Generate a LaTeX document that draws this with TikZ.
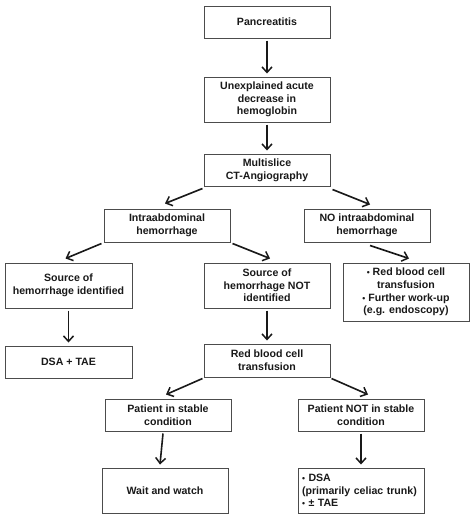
\documentclass[tikz,border=0pt]{standalone}
\usepackage{fontspec}
\setmainfont{Liberation Sans}
\usetikzlibrary{arrows.meta,calc}
\newcommand\bulletdot{{\fontsize{8.5}{8.5}\selectfont •}}
\begin{document}
\begin{tikzpicture}[x=1pt,y=-1pt,
  box/.style={draw=black!70,line width=1pt,rectangle,inner sep=0pt,align=center,
    font=\bfseries\fontsize{10.6}{12.6}\selectfont,text=black!90},
  arr/.style={draw=black!90,line width=1.6pt,-{Straight Barb[length=5.5pt,width=10pt,line width=1.5pt]}}]
\useasboundingbox (0,0) rectangle (474,520);
\node[box,minimum width=126pt,minimum height=32pt] (pan) at (267,22) {Pancreatitis};
\node[box,minimum width=126pt,minimum height=45pt] (une) at (267,99.5) {Unexplained acute\\decrease in\\hemoglobin};
\node[box,minimum width=126pt,minimum height=32pt] (mul) at (267,170) {Multislice\\CT-Angiography};
\node[box,minimum width=126pt,minimum height=33pt] (intra) at (167,225.5) {Intraabdominal\\hemorrhage};
\node[box,minimum width=126pt,minimum height=33pt] (noi) at (367,225.5) {NO intraabdominal\\hemorrhage};
\node[box,minimum width=127pt,minimum height=45pt] (srcid) at (68.5,285.5) {Source of\\hemorrhage identified};
\node[box,minimum width=126pt,minimum height=45pt] (srcnot) at (267,285.5) {Source of\\hemorrhage NOT\\identified};
\node[box,minimum width=126pt,minimum height=58pt] (rbcbul) at (406,292) {\bulletdot{} Red blood cell\\transfusion\\\bulletdot{} Further work-up\\(e.g. endoscopy)};
\node[box,minimum width=127pt,minimum height=32pt] (dsatae) at (68.5,362) {DSA + TAE};
\node[box,minimum width=126pt,minimum height=33pt] (rbc) at (267,360.5) {Red blood cell\\transfusion};
\node[box,minimum width=126pt,minimum height=32pt] (stable) at (168,415) {Patient in stable\\condition};
\node[box,minimum width=126pt,minimum height=32pt] (notstable) at (361,415) {Patient NOT in stable\\condition};
\node[box,minimum width=126pt,minimum height=45pt] (wait) at (165,490.5) {Wait and watch};
\node[box,minimum width=126pt,minimum height=45pt,align=left,text width=118pt] (dsa) at (361,490.5) {\bulletdot{} DSA\\(primarily celiac trunk)\\\bulletdot{} ± TAE};
\draw[arr] ([yshift=-2pt]pan.south) -- ([yshift=3pt]une.north);
\draw[arr] ([yshift=-2pt]une.south) -- ([yshift=3pt]mul.north);
\draw[arr] ([xshift=-1pt,yshift=-2pt]mul.south west) -- ([xshift=-2pt,yshift=5pt]intra.north);
\draw[arr] ([xshift=2pt,yshift=-3pt]mul.south east) -- ([xshift=3pt,yshift=4pt]noi.north);
\draw[arr] ([xshift=-2pt,yshift=-1pt]intra.south west) -- ([xshift=-3pt,yshift=4pt]srcid.north);
\draw[arr] ([xshift=2pt,yshift=-1pt]intra.south east) -- ([xshift=3pt,yshift=4pt]srcnot.north);
\draw[arr] ([xshift=3pt,yshift=-3pt]noi.south) -- ([xshift=3pt,yshift=4pt]rbcbul.north);
\draw[arr] ([yshift=-2pt]srcid.south) -- ([yshift=3pt]dsatae.north);
\draw[arr] ([yshift=-2pt]srcnot.south) -- ([yshift=3pt]rbc.north);
\draw[arr] ([xshift=-1pt,yshift=-1pt]rbc.south west) -- ([xshift=-2pt,yshift=4pt]stable.north);
\draw[arr] ([xshift=1pt,yshift=-1pt]rbc.south east) -- ([xshift=7pt,yshift=4pt]notstable.north);
\draw[arr] ([xshift=-5pt,yshift=-2pt]stable.south) -- ([xshift=-5pt,yshift=3pt]wait.north);
\draw[arr] ([yshift=-2pt]notstable.south) -- ([yshift=3pt]dsa.north);
\end{tikzpicture}
\end{document}
